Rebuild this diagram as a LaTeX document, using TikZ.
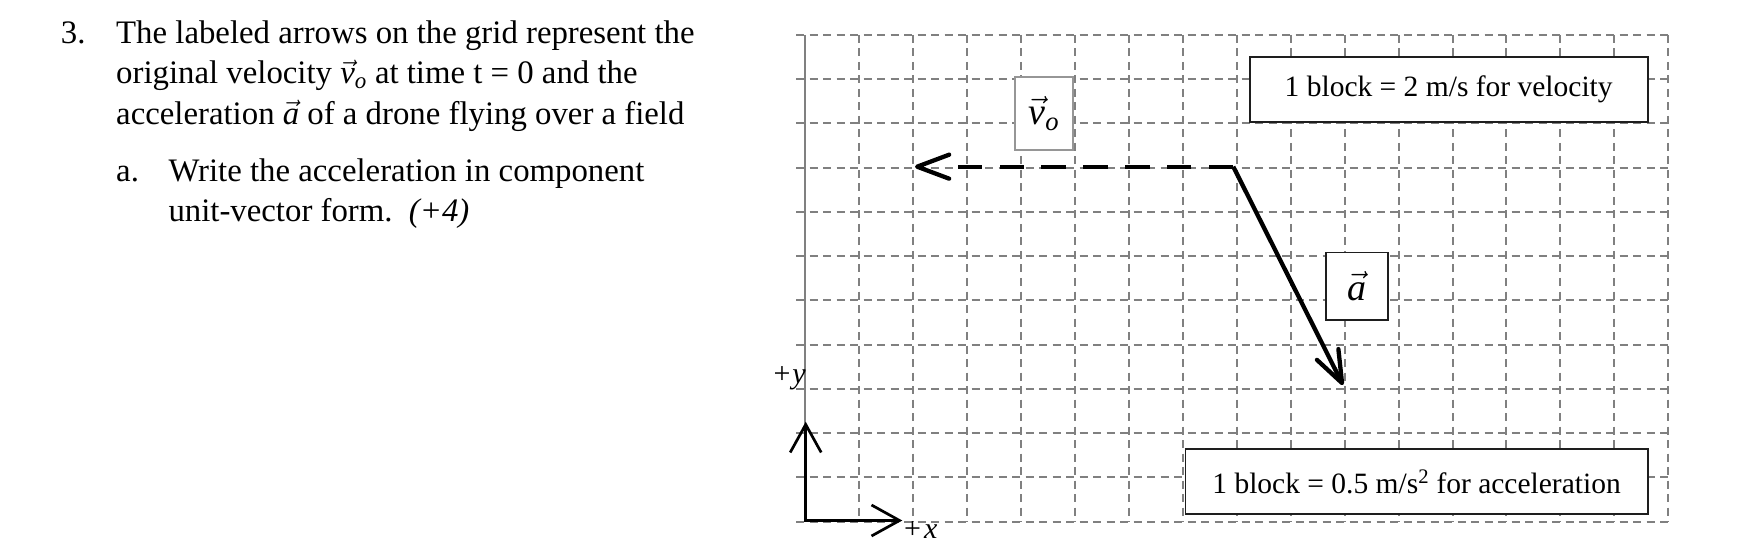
\RequirePackage{fix-cm}
\documentclass[tikz,border=0pt]{standalone}
\usepackage{amsmath}
\usepackage{fontspec}
\setmainfont{Liberation Serif}
\usetikzlibrary{arrows.meta}
\definecolor{gridgray}{RGB}{128,128,128}
\definecolor{boxdark}{RGB}{30,30,30}
\definecolor{boxgray}{RGB}{150,150,150}
\newcommand\QFont{\fontsize{32.8}{40}\selectfont}
\newcommand\BFont{\fontsize{29.5}{34}\selectfont}
\newcommand\LFont{\fontsize{38}{42}\selectfont}
\newcommand\AFont{\fontsize{30}{34}\selectfont}
\newcommand\VecV{\ensuremath{\vec{\textit{v}}_{\textit{o}}}}
\newcommand\VecA{\ensuremath{\vec{\textit{a}}}}
\begin{document}
\begin{tikzpicture}[x=1pt,y=-1pt,
  gridline/.style={gridgray, line width=2pt, dash pattern=on 8pt off 5.5pt},
  qtext/.style={anchor=base west, inner sep=0pt, font=\QFont},
  scalebox/.style={draw=boxdark, line width=1.8pt, fill=white, inner sep=0pt, font=\BFont, minimum width=#1, minimum height=65pt},
  lblbox/.style={line width=1.7pt, fill=white, inner sep=0pt, font=\LFont},
  vecarrow/.style={line width=4.3pt, -{Straight Barb[length=32pt,width=24pt,round]}},
  axisarrow/.style={line width=2.7pt, {Straight Barb[length=28pt,width=31pt]}-{Straight Barb[length=28pt,width=31pt]}},
  axlabel/.style={inner sep=0pt, font=\AFont}
]
\useasboundingbox (0,0) rectangle (1754,556);
\fill[white] (0,0) rectangle (1754,556);

% question text
\node[qtext] (n3) at (60.7,43.3) {3.};
\node[qtext] (l1) at (116,43.3) {The labeled arrows on the grid represent the};
\node[qtext] (l2) at (116,84) {original velocity \smash{\VecV} at time t = 0 and the};
\node[qtext] (l3) at (116,125) {acceleration \smash{\VecA} of a drone flying over a field};
\node[qtext] (na) at (116,181.7) {a.};
\node[qtext] (l4) at (168.3,181.7) {Write the acceleration in component};
\node[qtext] (l5) at (168.3,221.7) {unit-vector form.\ \ \textit{(+4)}};

% grid
\foreach \i in {1,...,16}{\draw[gridline] ({805+53.96*\i},35) -- ({805+53.96*\i},521.5);}
\foreach \j in {0,...,11}{\draw[gridline] (796,{35+44.23*\j}) -- (1668.3,{35+44.23*\j});}
\draw[gridgray, line width=2pt] (805,35) -- (805,521.5);

% boxes
\node[scalebox=398.1pt] (vscale) at (1448.65,89.2) {1 block = 2 m/s for velocity};
\node[scalebox=462.3pt] (ascale) at (1416.55,481.8) {1 block = 0.5 m/s\textsuperscript{2} for acceleration};
\node[lblbox, draw=boxgray, minimum width=57.7pt, minimum height=72.7pt] (vlabel) at (1043.8,113.7) {\VecV};
\node[lblbox, draw=boxdark, minimum width=62.3pt, minimum height=67.3pt] (alabel) at (1356.8,286.3) {\VecA};

% vectors
\coordinate (start) at (1233.3,166.7);
\coordinate (vtip) at (915,166.7);
\coordinate (atip) at (1343,385);
\draw[vecarrow, dash pattern=on 24.3pt off 17.6pt on 24.3pt off 17.6pt on 24.3pt off 17.6pt on 24.3pt off 17.6pt on 24.3pt off 17.6pt on 24.3pt off 17.6pt on 24.3pt off 300pt] (start) -- (vtip);
\draw[vecarrow] (start) -- (atip);

% axes
\coordinate (origin) at (805.7,520.5);
\coordinate (ytip) at (805.7,421.7);
\coordinate (xtip) at (902.3,520.5);
\draw[axisarrow] (ytip) -- (origin) -- (xtip);
\node[axlabel, anchor=base east] (ylabel) at (806,383) {+\kern2pt\textit{y}};
\node[axlabel, anchor=base west] (xlabel) at (904,538) {+\kern3pt\textit{x}};
\end{tikzpicture}
\end{document}
